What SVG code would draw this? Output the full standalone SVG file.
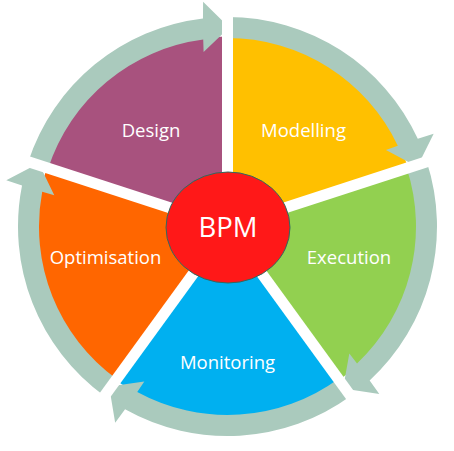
<svg xmlns="http://www.w3.org/2000/svg" xmlns:xlink="http://www.w3.org/1999/xlink" width="454" height="451" viewBox="0 0 454 451">
  <style>
    .label { font-family: "Open Sans", "Noto Sans", "Liberation Sans", sans-serif; font-size: 18.5px; fill: #ffffff; text-anchor: middle; }
    .center { font-family: "Open Sans", "Noto Sans", "Liberation Sans", sans-serif; font-size: 27.5px; fill: #ffffff; text-anchor: middle; }
    .ring { fill: #AACABD; }
    .divider { stroke: #ffffff; stroke-width: 11; }
  </style>
  <defs>
    <path id="sector" d="M 227.5 226.5 L 227.5 36.5 A 190 190 0 0 1 408.20 167.79 Z"/>
    <path id="arrow" d="M 227.5 17.0 A 209.5 209.5 0 0 1 417.79 138.86 L 433.66 133.85 L 417.29 166.66 L 385.96 149.90 L 397.79 145.64 A 188.5 188.5 0 0 0 227.5 38.0 Z"/>
    <line id="div" x1="227.5" y1="226.5" x2="227.5" y2="-30"/>
  </defs>
  <rect width="454" height="451" fill="#ffffff"/>

  <g id="node-design">
    <use xlink:href="#sector" transform="rotate(288 227.5 226.5)" fill="#A8527E"/>
    <text class="label" x="151" y="137">Design</text>
  </g>
  <g id="node-modelling">
    <use xlink:href="#sector" fill="#FFC000"/>
    <text class="label" x="303.5" y="137">Modelling</text>
  </g>
  <g id="node-execution">
    <use xlink:href="#sector" transform="rotate(72 227.5 226.5)" fill="#92D050"/>
    <text class="label" x="349" y="264">Execution</text>
  </g>
  <g id="node-monitoring">
    <use xlink:href="#sector" transform="rotate(144 227.5 226.5)" fill="#00B0F0"/>
    <text class="label" x="227.5" y="369">Monitoring</text>
  </g>
  <g id="node-optimisation">
    <use xlink:href="#sector" transform="rotate(216 227.5 226.5)" fill="#FF6600"/>
    <text class="label" x="105.5" y="264">Optimisation</text>
  </g>

  <g id="connectors">
    <use class="ring" xlink:href="#arrow" transform="rotate(288 227.5 226.5)"/>
    <use class="ring" xlink:href="#arrow"/>
    <use class="ring" xlink:href="#arrow" transform="rotate(72 227.5 226.5)"/>
    <use class="ring" xlink:href="#arrow" transform="rotate(144 227.5 226.5)"/>
    <use class="ring" xlink:href="#arrow" transform="rotate(216 227.5 226.5)"/>
  </g>

  <g id="dividers">
    <use class="divider" xlink:href="#div"/>
    <use class="divider" xlink:href="#div" transform="rotate(72 227.5 226.5)"/>
    <use class="divider" xlink:href="#div" transform="rotate(144 227.5 226.5)"/>
    <use class="divider" xlink:href="#div" transform="rotate(216 227.5 226.5)"/>
    <use class="divider" xlink:href="#div" transform="rotate(288 227.5 226.5)"/>
  </g>

  <g id="node-bpm">
    <ellipse cx="228" cy="227.5" rx="62" ry="55.5" fill="#FF1818" stroke="#2E6B60" stroke-width="1"/>
    <text class="center" x="228" y="237">BPM</text>
  </g>
</svg>
